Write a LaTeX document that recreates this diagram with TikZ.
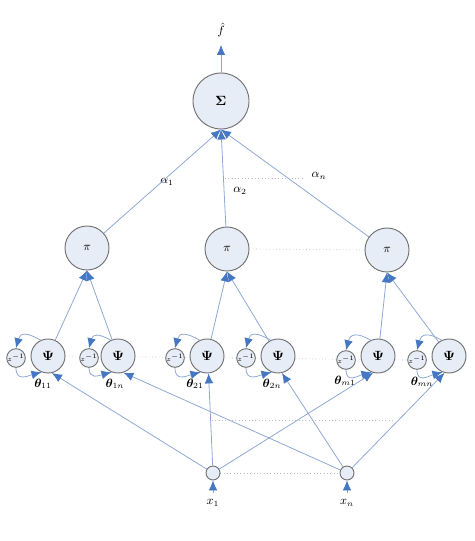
\documentclass[tikz,border=0pt]{standalone}
\usepackage{bm}
\usetikzlibrary{arrows.meta,backgrounds}
\definecolor{edgeblue}{HTML}{8FA8D4}
\definecolor{tipblue}{HTML}{4677C2}
\definecolor{nodefill}{HTML}{E7EDF7}
\definecolor{nodedraw}{HTML}{707070}
\definecolor{dotgray}{HTML}{B8BCC4}
\tikzset{
  neuron/.style={circle,draw=nodedraw,fill=nodefill,line width=0.7pt,inner sep=0pt,font=\boldmath},
  sumnode/.style={neuron,minimum size=42pt},
  prodnode/.style={neuron,minimum size=33pt,font=\small},
  psinode/.style={neuron,minimum size=25.5pt},
  delaynode/.style={neuron,minimum size=12pt,font=\fontsize{4}{4}\selectfont},
  innode/.style={neuron,minimum size=10.5pt},
  conn/.style={draw=edgeblue,line width=0.6pt,-{Latex[length=7.5pt,width=6.5pt,color=tipblue]}},
  guide/.style={draw=dotgray,line width=0.5pt,dotted},
  lab/.style={inner sep=0pt,font=\small}
}
\begin{document}
\begin{tikzpicture}[x=0.75pt,y=0.75pt]
\useasboundingbox (0,0) rectangle (474,-541);
% nodes
\node[sumnode] (S) at (221,-101) {$\Sigma$};
\node[lab] (fh) at (221,-30) {$\hat{f}$};
\node[prodnode] (pi1) at (87,-248) {$\pi$};
\node[prodnode] (pi2) at (227,-249) {$\pi$};
\node[prodnode] (pi3) at (387,-250) {$\pi$};
\node[psinode] (p1) at (48,-356) {$\Psi$};
\node[delaynode] (z1) at (16,-358) {$z^{-1}$};
\node[psinode] (p2) at (118,-356) {$\Psi$};
\node[delaynode] (z2) at (89,-358) {$z^{-1}$};
\node[psinode] (p3) at (207,-356) {$\Psi$};
\node[delaynode] (z3) at (175,-358) {$z^{-1}$};
\node[psinode] (p4) at (278,-356) {$\Psi$};
\node[delaynode] (z4) at (246,-358) {$z^{-1}$};
\node[psinode] (p5) at (378,-356) {$\Psi$};
\node[delaynode] (z5) at (346,-360) {$z^{-1}$};
\node[psinode] (p6) at (449,-356) {$\Psi$};
\node[delaynode] (z6) at (417,-360) {$z^{-1}$};
\node[innode] (in1) at (213,-473) {};
\node[innode] (in2) at (347,-473) {};
\node[lab] (lx1) at (213,-503) {$x_1$};
\node[lab] (lxn) at (347,-503) {$x_n$};
\coordinate (src1) at (213,-493);
\coordinate (srcn) at (347,-493);
\coordinate (out) at (221,-45);
% labels
\node[lab] (a1) at (167,-182) {$\alpha_1$};
\node[lab] (a2) at (240,-191) {$\alpha_2$};
\node[lab] (an) at (319,-176) {$\alpha_n$};
\node[lab] (t11) at (43,-384) {$\bm{\theta}_{11}$};
\node[lab] (t1n) at (115,-384) {$\bm{\theta}_{1n}$};
\node[lab] (t21) at (195,-384) {$\bm{\theta}_{21}$};
\node[lab] (t2n) at (272,-384) {$\bm{\theta}_{2n}$};
\node[lab] (tm1) at (345,-381) {$\bm{\theta}_{m1}$};
\node[lab] (tmn) at (422,-382) {$\bm{\theta}_{mn}$};
% dotted guides
\coordinate (ga) at (225,-178);
\coordinate (gb) at (303,-178);
\coordinate (gc) at (212,-420);
\coordinate (gd) at (395,-420);
\begin{scope}[on background layer]
\draw[guide] (p1.east) -- (z6.west);
\draw[guide] (pi2.east) -- (pi3.west);
\draw[guide] (in1.east) -- (in2.west);
\draw[guide] (ga) -- (gb);
\draw[guide] (gc) -- (gd);
\end{scope}
% connectors
\draw[conn] (S) -- (out);
\draw[conn] (pi1) -- (S.south);
\draw[conn] (pi2) -- (S.south);
\draw[conn] (pi3) -- (S.south);
\draw[conn] (p1) -- (pi1.south);
\draw[conn] (p2) -- (pi1.south);
\draw[conn] (p3) -- (pi2.south);
\draw[conn] (p4) -- (pi2.south);
\draw[conn] (p5) -- (pi3.south);
\draw[conn] (p6) -- (pi3.south);
\draw[conn] (src1) -- (in1);
\draw[conn] (srcn) -- (in2);
\draw[conn] (in1) -- (p1.-77);
\draw[conn] (in1) -- (p3.-85);
\draw[conn] (in1) -- (p5.-106);
\draw[conn] (in2) -- (p2.-72);
\draw[conn] (in2) -- (p4.-77);
\draw[conn] (in2) -- (p6.-105);
% feedback loops
\foreach \p/\z in {p1/z1,p2/z2,p3/z3,p4/z4,p5/z5,p6/z6}{
  \draw[conn] (\p.115) to[out=150,in=75,looseness=1.6] (\z.north);
  \draw[conn] (\z.-90) to[out=-90,in=195,looseness=1.4] (\p.-112);
}
\end{tikzpicture}
\end{document}
